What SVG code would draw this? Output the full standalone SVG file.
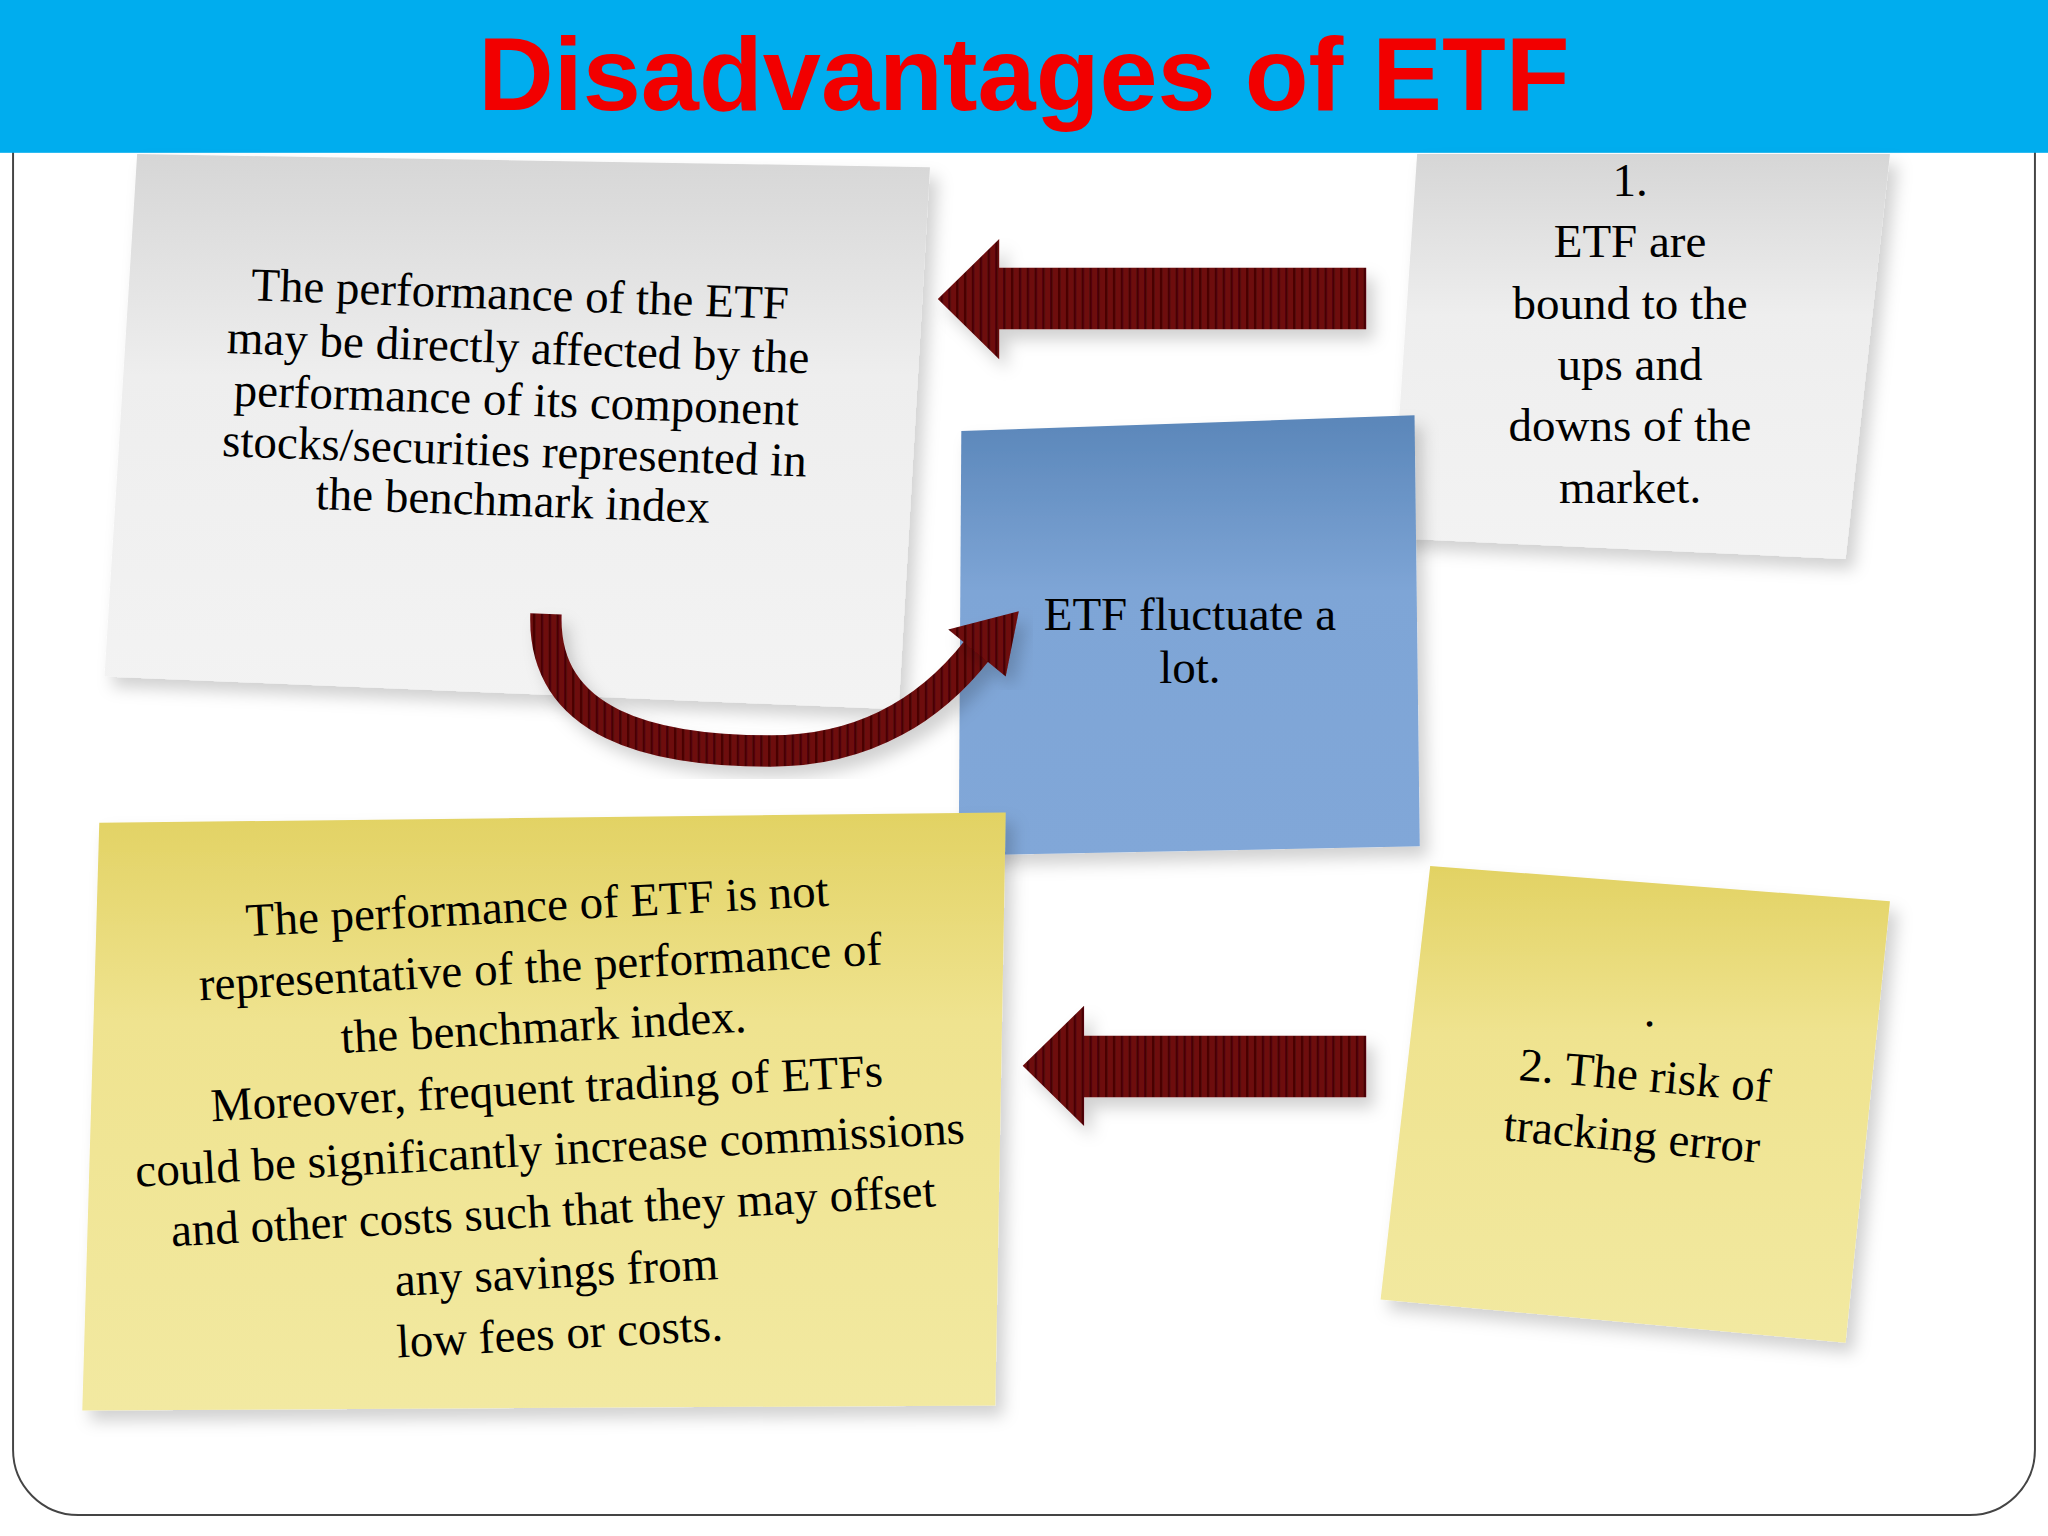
<svg xmlns="http://www.w3.org/2000/svg" width="2048" height="1536" viewBox="0 0 2048 1536">
<defs>
<linearGradient id="gGray" x1="0" y1="0" x2="0" y2="1"><stop offset="0" stop-color="#d6d6d6"/><stop offset="0.4" stop-color="#eeeeee"/><stop offset="1" stop-color="#f3f3f3"/></linearGradient>
<linearGradient id="gBlue" x1="0" y1="0" x2="0" y2="1"><stop offset="0" stop-color="#5a86b9"/><stop offset="0.4" stop-color="#7ea5d6"/><stop offset="1" stop-color="#81a7d8"/></linearGradient>
<linearGradient id="gYel" x1="0" y1="0" x2="0" y2="1"><stop offset="0" stop-color="#e2d263"/><stop offset="0.35" stop-color="#efe38f"/><stop offset="1" stop-color="#f2e9a1"/></linearGradient>
<pattern id="stripe" width="6" height="10" patternUnits="userSpaceOnUse"><rect width="6" height="10" fill="#6e0a0c"/><rect width="2" height="10" fill="#4a0506"/></pattern>
<filter id="sh" x="-10%" y="-10%" width="130%" height="130%"><feDropShadow dx="6" dy="8" stdDeviation="6" flood-color="#000" flood-opacity="0.18"/></filter>
<style>
.t{font-family:"Liberation Serif","Times New Roman",serif;font-size:36px;fill:#000;text-anchor:middle}
.arrow{fill:url(#stripe);filter:url(#sh)}
</style>
</defs>
<g transform="scale(1.30612)">
<rect x="10" y="60" width="1548" height="1100" rx="50" fill="#fff" stroke="#444" stroke-width="1.5"/>
<g id="header"><rect x="0" y="0" width="1568" height="117" fill="#00adee"/>
<text x="784" y="84" style="font-family:'Liberation Sans',Arial,sans-serif;font-size:80px;font-weight:bold;fill:#f20000;text-anchor:middle">Disadvantages of ETF</text></g>
<g id="note1"><polygon points="105,118 712,128 688,543 80,518" fill="url(#gGray)" filter="url(#sh)"/>
<g transform="rotate(2 395 315)"><text class="t" x="395" y="237">The performance of the ETF</text><text class="t" x="395" y="278">may be directly affected by the</text><text class="t" x="395" y="318">performance of its component</text><text class="t" x="395" y="357">stocks/securities represented in</text><text class="t" x="395" y="395">the benchmark index</text></g></g>
<g id="note2"><polygon points="1085,118 1447,118 1413,428 1065,412" fill="url(#gGray)" filter="url(#sh)"/>
<text class="t" x="1248" y="150">1.</text><text class="t" x="1248" y="197">ETF are</text><text class="t" x="1248" y="244">bound to the</text><text class="t" x="1248" y="291">ups and</text><text class="t" x="1248" y="338">downs of the</text><text class="t" x="1248" y="385">market.</text></g>
<g id="center"><polygon points="736,330 1083,318 1087,648 734,655" fill="url(#gBlue)" filter="url(#sh)"/>
<text class="t" x="911" y="482">ETF fluctuate a</text><text class="t" x="911" y="523">lot.</text></g>
<g id="note3"><polygon points="76,630 770,622 762,1076 63,1080" fill="url(#gYel)" filter="url(#sh)"/>
<g transform="rotate(-3 420 860)"><text class="t" x="420" y="705">The performance of ETF is not</text><text class="t" x="420" y="752">representative of the performance of</text><text class="t" x="420" y="798">the benchmark index.</text><text class="t" x="420" y="845">Moreover, frequent trading of ETFs</text><text class="t" x="420" y="892">could be significantly increase commissions</text><text class="t" x="420" y="939">and other  costs such that they may offset</text><text class="t" x="420" y="986">any savings from</text><text class="t" x="420" y="1033">low fees or costs.</text></g></g>
<g id="note4"><polygon points="1095,663 1447,690 1413,1028 1057,995" fill="url(#gYel)" filter="url(#sh)"/>
<g transform="rotate(5 1255 840)"><text class="t" x="1258" y="785">.</text><text class="t" x="1258" y="835">2. The risk of</text><text class="t" x="1252" y="882">tracking error</text></g></g>
<g id="connectors">
<polygon class="arrow" points="1046,205 765,205 765,183 718,229 765,275 765,252 1046,252"/>
<polygon class="arrow" points="1046,793 830,793 830,770 783,816 830,862 830,840 1046,840"/>
<path d="M418,470 C415,555 500,575 590,575 C665,575 715,540 748,498" fill="none" stroke="url(#stripe)" stroke-width="24" filter="url(#sh)"/>
<polygon class="arrow" points="780,468 726,482 770,518"/>
</g>
</g>
</svg>
